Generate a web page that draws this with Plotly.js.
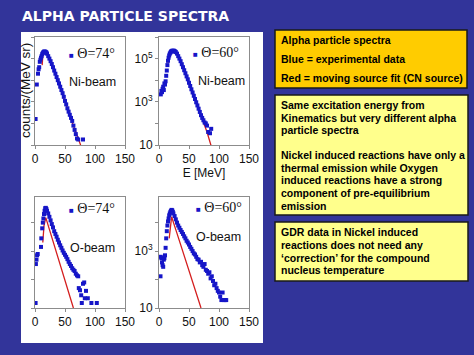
<!DOCTYPE html>
<html>
<head>
<meta charset="utf-8">
<script src="https://cdn.plot.ly/plotly-3.0.1.min.js"></script>
<style>
html,body{margin:0;padding:0;background:#32349a;}
#chart{width:474px;height:355px;}
</style>
</head>
<body>
<div id="chart"></div>
<script>
// ---- Ni-beam, Theta = 74 deg (experimental, blue) ----
const E_ni74 = [1, 3, 5, 6, 7, 8, 9, 10, 11, 12, 13, 14, 15, 16, 17, 18, 19, 20, 22, 24, 26, 28, 30, 32, 34, 36, 38, 40, 42, 44, 46, 48, 50, 52, 54, 56, 58, 60, 62, 64, 66, 68, 70, 72, 80];
const C_ni74 = [160, 6300, 20000, 32000, 40000, 71000, 89000, 110000, 130000, 160000, 180000, 200000, 210000, 210000, 210000, 200000, 190000, 170000, 130000, 100000, 76000, 56000, 40000, 28000, 20000, 14000, 10000, 7100, 5000, 3500, 2500, 1700, 1100, 760, 500, 350, 250, 180, 130, 79, 50, 32, 20, 18, 18];
// ---- Ni-beam, Theta = 74 deg (moving source fit, red) ----
const Efit_ni74 = [12, 12.5, 13, 15, 17, 20, 25, 30, 35, 40, 45, 50, 55, 60, 65, 70, 76];
const Cfit_ni74 = [50000, 100000, 140000, 200000, 210000, 180000, 89000, 40000, 17000, 7100, 2800, 1100, 420, 160, 63, 28, 10];

// ---- Ni-beam, Theta = 60 deg ----
const E_ni60 = [3, 4, 5, 6, 7, 8, 9, 10, 11, 12, 13, 14, 15, 16, 17, 18, 19, 20, 21, 22, 23, 24, 25, 26, 27, 28, 30, 32, 34, 36, 38, 40, 42, 44, 46, 48, 50, 52, 54, 56, 58, 60, 62, 64, 66, 68, 70, 72, 74, 76, 78, 80, 82, 85, 87];
const C_ni60 = [2200, 3200, 2800, 4000, 5000, 3500, 7100, 6300, 8900, 16000, 28000, 50000, 79000, 110000, 140000, 170000, 190000, 210000, 220000, 230000, 230000, 230000, 230000, 220000, 210000, 200000, 170000, 130000, 100000, 76000, 55000, 40000, 29000, 21000, 15000, 11000, 7600, 5400, 3800, 2700, 1900, 1350, 950, 680, 480, 340, 240, 180, 140, 110, 100, 79, 40, 35, 56];
const Efit_ni60 = [15, 16, 18, 20, 24, 28, 32, 36, 40, 45, 50, 55, 60, 65, 70, 75, 80, 87];
const Cfit_ni60 = [63000, 110000, 160000, 200000, 230000, 200000, 130000, 76000, 40000, 18000, 7600, 3200, 1350, 560, 240, 100, 40, 8.9];

// ---- O-beam, Theta = 74 deg ----
const E_o74 = [1, 1.5, 2.5, 3.5, 4.5, 10, 10.5, 12, 13, 14, 15, 16, 17, 18, 19, 20, 22, 24, 26, 28, 30, 32, 34, 36, 38, 40, 42, 44, 46, 48, 50, 52, 54, 56, 58, 60, 62, 64, 66, 68, 70, 72, 73, 75, 77, 78, 80, 82, 83, 85, 88, 94, 103];
const C_o74 = [15, 350, 500, 710, 790, 1400, 2800, 6300, 10000, 14000, 20000, 26000, 32000, 33000, 30000, 26000, 21000, 16000, 12000, 8900, 6800, 5000, 4000, 3200, 2500, 2000, 1600, 1300, 1050, 870, 740, 630, 520, 420, 350, 300, 250, 220, 200, 160, 140, 130, 50, 42, 28, 15, 71, 79, 22, 40, 22, 15, 15];
const Efit_o74 = [13, 15, 18, 20, 30, 40, 50, 60, 64];
const Cfit_o74 = [2000, 7900, 15000, 11000, 2200, 460, 93, 19, 10];

// ---- O-beam, Theta = 60 deg ----
const E_o60 = [2.5, 3, 4, 5, 6, 7, 8, 9, 10, 11, 12, 13, 14, 15, 16, 17, 18, 19, 20, 21, 22, 23, 24, 26, 28, 30, 32, 34, 36, 38, 40, 42, 44, 46, 48, 50, 52, 54, 56, 58, 60, 62, 64, 66, 68, 70, 72, 74, 76, 78, 80, 82, 84, 86, 88, 90, 92, 94, 96, 98, 100, 102, 104, 106, 108, 110, 112];
const C_o60 = [130, 630, 560, 400, 320, 280, 500, 560, 710, 1300, 2800, 5000, 7900, 11000, 14000, 18000, 21000, 24000, 26000, 28000, 27000, 24000, 21000, 17000, 13000, 10000, 7900, 6600, 5500, 4700, 4000, 3300, 2800, 2300, 2000, 1700, 1400, 1200, 1000, 830, 760, 630, 520, 500, 400, 420, 320, 280, 350, 220, 200, 160, 180, 110, 130, 89, 63, 71, 50, 40, 35, 25, 19, 35, 19, 19, 19];
const Efit_o60 = [17, 19, 21, 30, 40, 50, 60, 70];
const Cfit_o60 = [2800, 7900, 16000, 4200, 910, 200, 45, 10];

// ---- texts ----
const panelAngles = ['Θ=74°', 'Θ=60°', 'Θ=74°', 'Θ=60°'];
const panelBeams = ['Ni-beam', 'Ni-beam', 'O-beam', 'O-beam'];
const xTickVals = [0, 50, 100, 150];
const yLabVals = [10, 1e3, 1e5];
const yLabText = ['10', '10<sup>3</sup>', '10<sup>5</sup>'];
const yDecades = [10, 100, 1e3, 1e4, 1e5, 1e6];
const box1Lines = ['Alpha particle spectra', 'Blue = experimental data', 'Red = moving source fit (CN source)'];
const box2Lines = ['Same excitation energy from', 'Kinematics but very different alpha', 'particle spectra', 'Nickel induced reactions have only a', 'thermal emission while Oxygen', 'induced reactions have a strong', 'component of pre-equilibrium', 'emission'];
const box3Lines = ['GDR data in Nickel induced', 'reactions does not need any', '‘correction’ for the compound', 'nucleus temperature'];

// ---- layout helpers (pixel -> paper) ----
const W = 474, H = 355;
const px = x => x / W;
const py = y => 1 - y / H;

const BLUE = '#1616c8', RED = '#d41e1e';
const FONT = 'Liberation Sans, Arial, sans-serif';
const AXC = '#8c8c8c';

function expTrace(x, y, xa, ya) {
  return {x: x, y: y, xaxis: xa, yaxis: ya, type: 'scatter', mode: 'markers',
    marker: {symbol: 'square', size: 4, color: BLUE}, hoverinfo: 'skip', showlegend: false};
}
function fitTrace(x, y, xa, ya) {
  return {x: x, y: y, xaxis: xa, yaxis: ya, type: 'scatter', mode: 'lines',
    line: {color: RED, width: 1.3}, hoverinfo: 'skip', showlegend: false};
}

const data = [
  fitTrace(Efit_ni74, Cfit_ni74, 'x', 'y'), expTrace(E_ni74, C_ni74, 'x', 'y'),
  fitTrace(Efit_ni60, Cfit_ni60, 'x2', 'y2'), expTrace(E_ni60, C_ni60, 'x2', 'y2'),
  fitTrace(Efit_o74, Cfit_o74, 'x3', 'y3'), expTrace(E_o74, C_o74, 'x3', 'y3'),
  fitTrace(Efit_o60, Cfit_o60, 'x4', 'y4'), expTrace(E_o60, C_o60, 'x4', 'y4')
];

const axisBase = {showgrid: false, zeroline: false, showline: true, linecolor: AXC, linewidth: 1,
  mirror: true, ticks: 'outside', ticklen: 3, tickcolor: AXC,
  tickfont: {family: FONT, size: 12, color: '#111'}};

function xAx(d0, d1, anchor, title) {
  const a = Object.assign({}, axisBase, {domain: [px(d0), px(d1)], anchor: anchor, range: [0, 150],
    tickmode: 'array', tickvals: xTickVals, ticktext: xTickVals.map(String)});
  if (title) a.title = {text: title, font: {family: FONT, size: 12, color: '#111'}, standoff: 2};
  return a;
}
function yAx(top, bottom, anchor, range, labelled) {
  const a = Object.assign({}, axisBase, {domain: [py(bottom), py(top)], anchor: anchor, type: 'log', range: range});
  if (labelled) {
    a.tickmode = 'array'; a.tickvals = yLabVals; a.ticktext = yLabText;
    a.minor = {tickmode: 'array', tickvals: yDecades, ticks: 'outside', ticklen: 3, tickcolor: AXC, showgrid: false};
  } else {
    a.tickmode = 'array'; a.tickvals = yDecades; a.showticklabels = false;
  }
  return a;
}

const layout = {
  width: W, height: H, margin: {l: 0, r: 0, t: 0, b: 0},
  paper_bgcolor: '#32349a', plot_bgcolor: '#ffffff', showlegend: false,
  xaxis: xAx(35, 125, 'y'),
  yaxis: yAx(37, 145, 'x', [1, 6], false),
  xaxis2: xAx(159, 249, 'y2', 'E [MeV]'),
  yaxis2: yAx(37, 145, 'x2', [1, 6], true),
  xaxis3: xAx(35, 125, 'y3'),
  yaxis3: yAx(197, 308, 'x3', [1, 4.9], false),
  xaxis4: xAx(159, 249, 'y4'),
  yaxis4: yAx(197, 308, 'x4', [1, 4.9], true),
  shapes: [
    {type: 'rect', xref: 'paper', yref: 'paper', x0: px(21), x1: px(263), y0: py(343), y1: py(32),
      fillcolor: '#ffffff', line: {width: 0}, layer: 'below'},
    {type: 'rect', xref: 'paper', yref: 'paper', x0: px(275), x1: px(467), y0: py(88), y1: py(30),
      fillcolor: '#ffcc00', line: {width: 1.5, color: '#1a1a1a'}, layer: 'below'},
    {type: 'rect', xref: 'paper', yref: 'paper', x0: px(275), x1: px(468), y0: py(215), y1: py(95),
      fillcolor: '#ffff8c', line: {width: 1.5, color: '#1a1a1a'}, layer: 'below'},
    {type: 'rect', xref: 'paper', yref: 'paper', x0: px(275), x1: px(468), y0: py(281), y1: py(222),
      fillcolor: '#ffff8c', line: {width: 1.5, color: '#1a1a1a'}, layer: 'below'}
  ],
  annotations: []
};

const ann = layout.annotations;
function addText(text, x, y, opts) {
  ann.push(Object.assign({xref: 'paper', yref: 'paper', x: px(x), y: py(y), text: text, showarrow: false,
    xanchor: 'left', yanchor: 'middle', borderpad: 0,
    font: {family: FONT, size: 12, color: '#111'}}, opts || {}));
}

// slide title
addText('<b>ALPHA PARTICLE SPECTRA</b>', 21, 16, {font: {family: 'DejaVu Sans, sans-serif', size: 14, color: '#ffffff'}});

// y axis title
addText('counts/(MeV sr)', 25, 91, {xanchor: 'center', textangle: -90, font: {family: FONT, size: 13.5, color: '#111'}});

// panel legends and beam labels
const legPos = [[68, 53], [192, 52], [68, 208], [195, 207]];
const beamPos = [[92, 82], [221, 81], [92, 248], [218, 237]];
for (let i = 0; i < 4; i++) {
  addText('<span style="color:' + BLUE + ';font-size:8px">■</span> ' + panelAngles[i], legPos[i][0], legPos[i][1],
    {font: {family: 'Liberation Serif, Times New Roman, serif', size: 14, color: '#111'}});
  addText(panelBeams[i], beamPos[i][0], beamPos[i][1], {xanchor: 'center', font: {family: FONT, size: 12.5, color: '#111'}});
}

// text boxes
const boxFont = {family: FONT, size: 10.5, color: '#000'};
const b1y = [40, 59, 78];
box1Lines.forEach((t, i) => addText('<b>' + t + '</b>', 280, b1y[i], {font: boxFont}));
const b2y = [105, 117.5, 130, 155, 167.5, 180, 193, 206];
box2Lines.forEach((t, i) => addText('<b>' + t + '</b>', 280, b2y[i], {font: boxFont}));
const b3y = [232, 244.5, 257.5, 270];
box3Lines.forEach((t, i) => addText('<b>' + t + '</b>', 280, b3y[i], {font: boxFont}));

Plotly.newPlot('chart', data, layout, {staticPlot: true, displayModeBar: false});
</script>
</body>
</html>
